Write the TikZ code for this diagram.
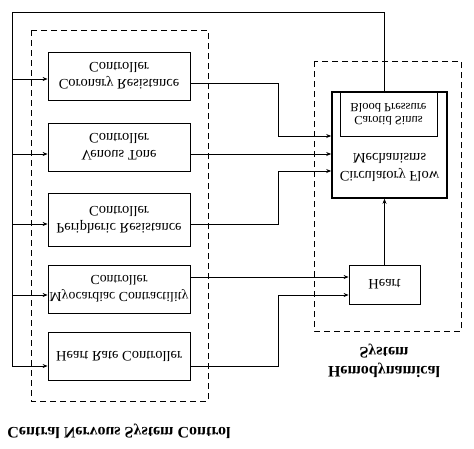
\documentclass[tikz,border=0pt]{standalone}
\usepackage{fontspec}
\setmainfont{Liberation Serif}
\usetikzlibrary{arrows.meta}

\begin{document}
\begin{tikzpicture}[x=1pt,y=1pt,yscale=-1,
    every node/.append style={transform shape},
    ctrlbox/.style={draw,line width=.8pt,minimum width=142pt,minimum height=48pt,
        align=center,inner sep=0pt,font=\fontsize{14.5}{17}\selectfont},
    link/.style={line width=.8pt,-{Stealth[length=5pt,width=4pt]}},
    group/.style={draw,line width=.8pt,dash pattern=on 6pt off 4pt}]
\useasboundingbox (0,0) rectangle (474,448);
% dashed groups
\draw[group] (31,30) rectangle (208,401);
\draw[group] (314,61) rectangle (461,331);
% controllers
\node[ctrlbox] (cor) at (119,76) {Coronary Resistance\\Controller};
\node[ctrlbox] (ven) at (119,147) {Venous Tone\\Controller};
\node[ctrlbox,minimum height=53pt] (per) at (119,220) {Peripheric Resistance\\Controller};
\node[ctrlbox,font=\fontsize{13.8}{17}\selectfont] (myo) at (119,289) {Myocardiac Contractility\\Controller};
\node[ctrlbox] (hr) at (119,356) {Heart Rate Controller};
% hemodynamics
\node[draw,line width=1.6pt,minimum width=115pt,minimum height=106pt] (circ) at (389.5,145) {};
\node[align=center,font=\fontsize{14.5}{18}\selectfont] (circtext) at (389.5,167) {Circulatory Flow\\Mechanisms};
\node[draw,line width=.8pt,minimum width=97pt,minimum height=44pt,align=center,
    inner sep=0pt,font=\fontsize{12.5}{13}\selectfont] (cs) at (388.5,114) {Carotid Sinus\\Blood Pressure};
\node[draw,line width=.8pt,minimum width=71pt,minimum height=39pt,
    font=\fontsize{14.5}{17}\selectfont] (heart) at (384.5,284.5) {Heart};
% labels
\node[font=\fontsize{16}{18}\selectfont\bfseries] (cnslabel) at (119,431) {Central Nervous System Control};
\node[align=center,font=\fontsize{16}{19}\selectfont\bfseries] (hemolabel) at (384,361) {Hemodynamical\\System};
% feedback from carotid sinus
\draw[line width=.8pt] (cs.south -| heart.south) |- (12,12) -- (12,366);
\foreach \c/\y in {cor/79,ven/154,per/224,myo/295,hr/366}{
    \draw[link] (12,\y) -- (\c.west |- 0,\y);
}
% controller outputs
\draw[link] (cor.east |- 0,83) -| (278,136) -- (circ.west |- 0,136);
\draw[link] (ven.east |- 0,154) -- (circ.west |- 0,154);
\draw[link] (per.east |- 0,224) -| (278,171) -- (circ.west |- 0,171);
\draw[link] (myo.east |- 0,277) -- (heart.west |- 0,277);
\draw[link] (hr.east |- 0,366) -| (278,295) -- (heart.west |- 0,295);
\draw[link] (heart.south) -- (heart.south |- circ.north);
\end{tikzpicture}
\end{document}
